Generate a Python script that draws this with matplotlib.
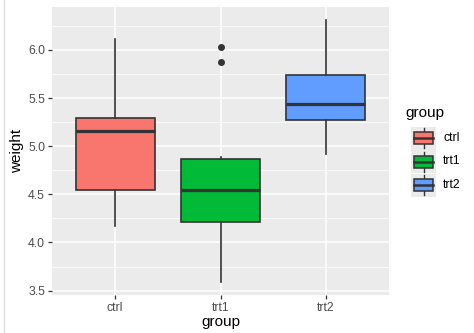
import matplotlib
matplotlib.use("Agg")
import matplotlib.pyplot as plt
from matplotlib.patches import Rectangle
from matplotlib.lines import Line2D
import numpy as np

# PlantGrowth weights per group
groups = ["ctrl", "trt1", "trt2"]
ctrl = [4.17, 5.58, 5.18, 6.11, 4.50, 4.61, 5.17, 4.53, 5.33, 5.14]
trt1 = [4.81, 4.17, 4.41, 3.59, 5.87, 3.83, 6.03, 4.89, 4.32, 4.69]
trt2 = [6.31, 5.12, 5.54, 5.50, 5.37, 5.29, 4.92, 6.15, 5.80, 5.26]
fills = ["#F8766D", "#00BA38", "#619CFF"]
y_ticks = [3.5, 4.0, 4.5, 5.0, 5.5, 6.0]

plt.rcParams["font.family"] = ["Liberation Sans", "DejaVu Sans"]
W, H = 474, 333
fig = plt.figure(figsize=(W / 100, H / 100), dpi=100)
# faint border line on the left edge of the screenshot
fig.add_artist(Line2D([3.5 / W, 3.5 / W], [0, 1], color="#DDDDDD", lw=1.0))

ax = fig.add_axes([52 / W, (H - 295) / H, (389 - 52) / W, (295 - 7) / H])
ax.set_facecolor("#EBEBEB")
for s in ax.spines.values():
    s.set_visible(False)

data = [ctrl, trt1, trt2]
pos = np.arange(1, len(groups) + 1)
edge = "#333333"
bp = ax.boxplot(data, positions=pos, widths=0.75, whis=1.5, patch_artist=True,
                showcaps=False, zorder=3,
                boxprops=dict(edgecolor=edge, linewidth=1.2),
                whiskerprops=dict(color=edge, linewidth=1.2),
                medianprops=dict(color=edge, linewidth=2.3),
                flierprops=dict(marker="o", markerfacecolor=edge,
                                markeredgecolor=edge, markersize=4))
for patch, c in zip(bp["boxes"], fills):
    patch.set_facecolor(c)

ax.set_yticks(y_ticks)
ax.set_yticklabels([f"{v:.1f}" for v in y_ticks])
ax.set_yticks([v + 0.25 for v in y_ticks], minor=True)
ax.set_xticks(pos)
ax.set_xticklabels(groups)

allv = np.concatenate(data)
rng = allv.max() - allv.min()
ax.set_ylim(allv.min() - 0.05 * rng, allv.max() + 0.05 * rng)
ax.set_xlim(0.4, len(groups) + 0.6)

ax.grid(True, which="major", color="white", linewidth=1.1, zorder=0)
ax.grid(True, which="minor", axis="y", color="white", linewidth=0.55, zorder=0)
ax.set_axisbelow(True)
ax.tick_params(which="major", length=3, width=0.9, color="#333333",
               labelcolor="#4D4D4D", labelsize=8.8, pad=2)
ax.tick_params(which="minor", length=0)
ax.set_xlabel("group", fontsize=11, labelpad=1)
ax.set_ylabel("weight", fontsize=11, labelpad=3)

# legend drawn in pixel space
lax = fig.add_axes([400 / W, (H - 205) / H, 74 / W, 100 / H])
lax.set_xlim(400, 474)
lax.set_ylim(205, 105)
lax.axis("off")
lax.text(405, 113, "group", fontsize=11, va="center", ha="left")
for i, (g, c) in enumerate(zip(groups, fills)):
    yc = 138 + i * 23.5
    lax.add_patch(Rectangle((411, yc - 11.5), 25, 23, facecolor="#EBEBEB",
                            edgecolor="none"))
    lax.plot([423.5, 423.5], [yc - 10, yc + 10], color=edge, lw=1.0)
    lax.add_patch(Rectangle((414, yc - 6), 19, 12, facecolor=c,
                            edgecolor=edge, lw=1.1, zorder=3))
    lax.plot([414, 433], [yc, yc], color=edge, lw=1.8, zorder=4)
    lax.text(443, yc, g, fontsize=8.8, va="center", ha="left")

fig.savefig("out.png", dpi=100)
